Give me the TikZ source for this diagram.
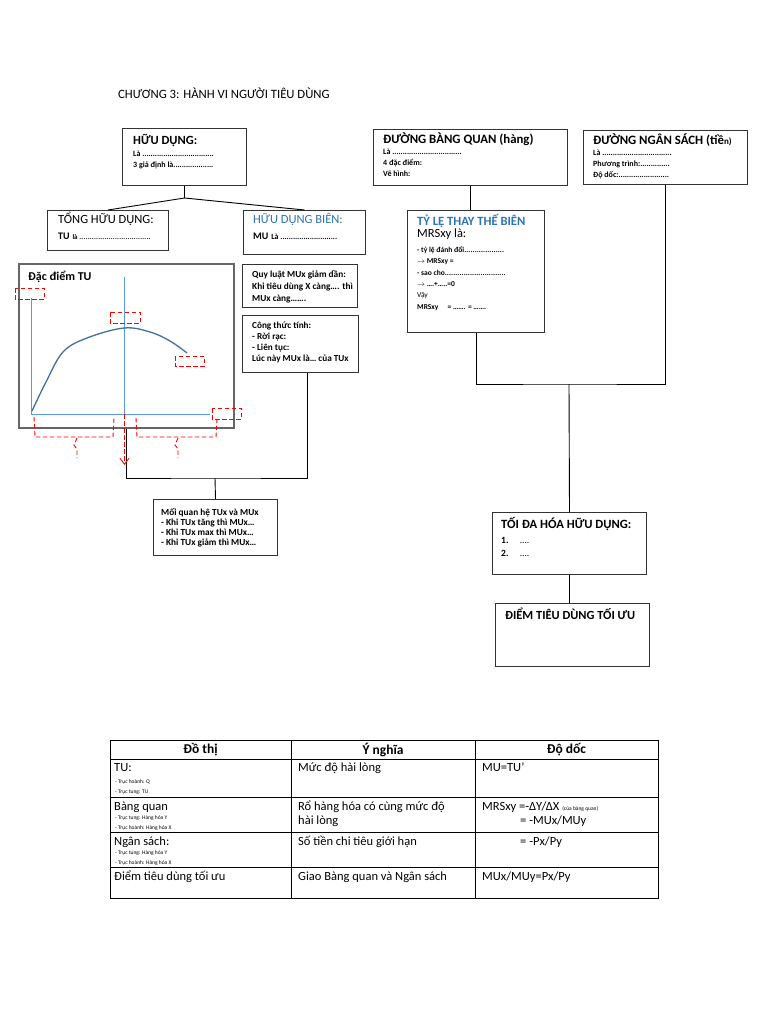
\documentclass[tikz,border=0pt]{standalone}
\usepackage{fontspec}
\setmainfont{Carlito}
\usepackage{tikz}
\usetikzlibrary{arrows, arrows.meta, positioning, calc}
\definecolor{headBlue}{RGB}{46,116,181}
\definecolor{axisBlue}{RGB}{91,155,213}
\definecolor{curveBlue}{RGB}{65,113,156}
\newcommand{\dotrun}[1]{\hbox to #1pt{\leaders\hbox to 2.1pt{\hss.\hss}\hfill}}
\tikzstyle{box} = [draw=black!80, line width=1pt, anchor=north west, inner sep=0pt]
\tikzstyle{boxtext} = [anchor=base west, inner sep=0pt, align=left]
\tikzstyle{link} = [black, line width=0.9pt]
\tikzstyle{redmark} = [red, line width=0.9pt, dash pattern=on 4.5pt off 2.5pt]
\tikzstyle{axis} = [axisBlue, line width=0.9pt]
\tikzstyle{cell} = [anchor=base west, inner sep=0pt, align=left, font=\fontsize{12.5}{14}\selectfont]
\tikzstyle{tiny} = [anchor=base west, inner sep=0pt, align=left, font=\fontsize{5.5}{9.5}\selectfont]
\tikzstyle{head} = [inner sep=0pt, font=\bfseries\fontsize{13.5}{15}\selectfont]

\begin{document}
\begin{tikzpicture}[x=1pt, y=-1pt]
    \path[use as bounding box, fill=white] (0,0) rectangle (768,1024);

    % Title
    \node[boxtext, font=\fontsize{12.7}{14}\selectfont] (chuong) at (118,99) {CHƯƠNG 3: HÀNH VI NGƯỜI TIÊU DÙNG};

    % Left branch
    \node[box, minimum width=124, minimum height=57] (huuDung) at (122,128) {};
    \node[boxtext, font=\bfseries\fontsize{8}{11.5}\selectfont] (huuDung-txt) at (133,168)
        {{\fontsize{12.5}{12}\selectfont HỮU DỤNG:}\\[0.5pt] Là \dotrun{72}\\ 3 giả định là\dotrun{40}};

    \node[box, minimum width=121, minimum height=40] (tongHD) at (47,210) {};
    \node[boxtext, font=\fontsize{12.5}{17}\selectfont] (tongHD-txt) at (58,240)
        {TỔNG HỮU DỤNG:\\ \textbf{{\fontsize{10}{10}\selectfont TU} {\fontsize{7}{7}\selectfont là \dotrun{72}}}};

    \node[box, minimum width=122, minimum height=44] (hdBien) at (243,210) {};
    \node[boxtext, font=\fontsize{12.5}{17}\selectfont] (hdBien-txt) at (253,240)
        {\textcolor{headBlue}{HỮU DỤNG BIÊN:}\\ \textbf{{\fontsize{10}{10}\selectfont MU} {\fontsize{8}{8}\selectfont Là \dotrun{58}}}};

    \node[box, minimum width=115, minimum height=43] (quyLuat) at (242,264) {};
    \node[boxtext, font=\bfseries\fontsize{9.3}{11.7}\selectfont] (quyLuat-txt) at (252,301)
        {Quy luật MUx giảm dần:\\ Khi tiêu dùng X càng…. thì\\ MUx càng…….};

    \node[box, minimum width=116, minimum height=57] (congThuc) at (242,315) {};
    \node[boxtext, font=\bfseries\fontsize{9.2}{11}\selectfont] (congThuc-txt) at (252,361)
        {Công thức tính:\\ - Rời rạc:\\ - Liên tục:\\ Lúc này MUx là… của TUx};

    \node[box, minimum width=124, minimum height=56] (moiQH) at (153,499) {};
    \node[boxtext, font=\bfseries\fontsize{9.3}{10}\selectfont] (moiQH-txt) at (161,545)
        {Mối quan hệ TUx và MUx\\ - Khi TUx tăng thì MUx…\\ - Khi TUx max thì MUx…\\ - Khi TUx giảm thì MUx…};

    % TU graph
    \node[box, draw=black!60, line width=1.6pt, minimum width=215, minimum height=164] (tuGraph) at (18,263) {};
    \node[boxtext, font=\bfseries\fontsize{12}{13}\selectfont] (tuGraph-txt) at (28,280) {Đặc điểm TU};
    \draw[axis] (31,298) -- (31,414) -- (210,414);
    \draw[axis] (124,277) -- (124,414);
    \draw[curveBlue, line width=1.3pt] plot[smooth, tension=0.6] coordinates
        {(32,411) (46,382) (63,352) (87,338) (124,328) (150,332) (170,341) (187,353)};

    % Red marks
    \draw[redmark] (15,288) rectangle (44,299);
    \draw[redmark] (110,312) rectangle (140,323);
    \draw[redmark] (175,356) rectangle (204,366);
    \draw[redmark] (212,408) rectangle (241,419);
    \draw[redmark] (34,417) -- (35,437) -- (113,437) -- (114,417);
    \draw[redmark] (77,438) -- (74,445) -- (77,449) -- (77,458);
    \draw[redmark] (136,418) -- (137,437) -- (216,437) -- (217,419);
    \draw[redmark] (178,438) -- (175,445) -- (178,449) -- (178,458);

    % Connectors (left)
    \draw[link] (huuDung.south) -- ++(0,12) coordinate (hdFork);
    \draw[link] (hdFork) -- (tongHD.north);
    \draw[link] (hdFork) -- (hdBien.north);
    \coordinate (noiTU) at (215,478);
    \draw[link] (tuGraph.south) |- (noiTU) -| ($(congThuc.south)+(7,0)$);
    \draw[link] (noiTU) -- (moiQH.north);
    \draw[redmark, ->, >={Straight Barb[length=6pt,width=9pt]}] (124.5,414) -- (124.5,465);

    % Right branch
    \node[box, minimum width=194, minimum height=56] (bangQuan) at (373,129) {};
    \node[boxtext, font=\bfseries\fontsize{8}{11}\selectfont] (bangQuan-txt) at (383,177)
        {{\fontsize{12.8}{12}\selectfont ĐƯỜNG BÀNG QUAN (hàng)}\\ Là \dotrun{70}\\ 4 đặc điểm:\\ Vẽ hình:};

    \node[box, minimum width=164, minimum height=54] (nganSach) at (583,130) {};
    \node[boxtext, font=\bfseries\fontsize{8}{11}\selectfont] (nganSach-txt) at (593,178)
        {{\fontsize{12.8}{12}\selectfont ĐƯỜNG NGÂN SÁCH (tiề{\fontsize{9}{9}\selectfont n)}}\\ Là \dotrun{70}\\ Phương trình:\dotrun{30}\\ Độ dốc:\dotrun{52}};

    \node[box, minimum width=137, minimum height=122] (tyLe) at (407,210) {};
    \node[boxtext, font=\bfseries\fontsize{7.5}{11.3}\selectfont] (tyLe-txt) at (417,309)
        {{\color{headBlue}\fontsize{12.6}{12}\selectfont TỶ LỆ THAY THẾ BIÊN}\\[1pt]
         {\mdseries\fontsize{12.5}{12}\selectfont MRSxy là:}\\[3.7pt]
         - tỷ lệ đánh đổi\dotrun{40}\\ $\rightarrow$ MRSxy =\\ - sao cho\dotrun{62}\\ $\rightarrow$ ….+…..=0\\
         {\mdseries Vậy}\\ MRSxy\quad\ = ……. = …….};

    \node[box, minimum width=154, minimum height=62] (toiDa) at (492,512) {};
    \node[boxtext, font=\bfseries\fontsize{9.5}{13}\selectfont] (toiDa-txt) at (501,556)
        {{\fontsize{12.6}{12}\selectfont TỐI ĐA HÓA HỮU DỤNG:}\\[2pt] 1.\quad\ {\mdseries ….}\\ 2.\quad\ {\mdseries ….}};

    \node[box, minimum width=154, minimum height=63] (diemTD) at (495,603) {};
    \node[boxtext, font=\bfseries\fontsize{12.4}{13}\selectfont] (diemTD-txt) at (505,619) {ĐIỂM TIÊU DÙNG TỐI ƯU};

    % Connectors (right)
    \draw[link] (bangQuan.south) -- (bangQuan.south |- tyLe.north);
    \coordinate (ketHop) at (569,384);
    \draw[link] (tyLe.south) |- (ketHop) -| (nganSach.south);
    \draw[link] (ketHop) -- (toiDa.north);
    \draw[link] (toiDa.south) -- (toiDa.south |- diemTD.north);

    % Summary table
    \draw[black, line width=1pt] (110,740) rectangle (658,898);
    \foreach \y in {759,797,832,867}
        \draw[black, line width=0.8pt] (110,\y) -- (658,\y);
    \foreach \x in {291,475}
        \draw[black, line width=0.8pt] (\x,740) -- (\x,898);

    \node[head] (hDoThi) at (200.5,750) {Đồ thị};
    \node[head] (hYNghia) at (383,750) {Ý nghĩa};
    \node[head] (hDoDoc) at (566.5,750) {Độ dốc};

    \node[cell] (c11) at (114,771) {TU:};
    \node[tiny] (c11a) at (115,793) {- Trục hoành: Q\\ - Trục tung: TU};
    \node[cell] (c12) at (298,771) {Mức độ hài lòng};
    \node[cell] (c13) at (482,771) {MU=TU’};

    \node[cell] (c21) at (114,810) {Bàng quan};
    \node[tiny] (c21a) at (115,829) {- Trục tung: Hàng hóa Y\\ - Trục hoành: Hàng hóa X};
    \node[cell] (c22) at (298,824) {Rổ hàng hóa có cùng mức độ\\ hài lòng};
    \node[cell] (c23) at (482,810) {MRSxy =-ΔY/ΔX {\fontsize{5.5}{6}\selectfont (của bàng quan)}};
    \node[cell] (c23a) at (520,824) {= -MUx/MUy};

    \node[cell] (c31) at (114,845) {Ngân sách:};
    \node[tiny] (c31a) at (115,864) {- Trục tung: Hàng hóa Y\\ - Trục hoành: Hàng hóa X};
    \node[cell] (c32) at (298,845) {Số tiền chi tiêu giới hạn};
    \node[cell] (c33) at (520,845) {= -Px/Py};

    \node[cell] (c41) at (114,880) {Điểm tiêu dùng tối ưu};
    \node[cell] (c42) at (298,880) {Giao Bàng quan và Ngân sách};
    \node[cell] (c43) at (482,880) {MUx/MUy=Px/Py};
\end{tikzpicture}
\end{document}
